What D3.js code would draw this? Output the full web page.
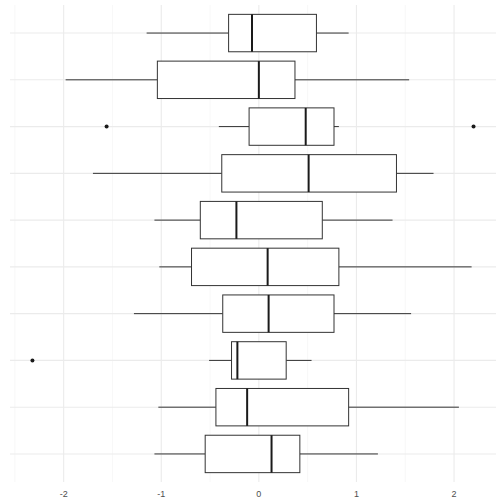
<!DOCTYPE html>
<html><head><meta charset="utf-8">
<script src="https://cdn.jsdelivr.net/npm/d3@7"></script>
<style>body{margin:0;background:#fff}</style>
</head><body>
<svg width="504" height="504"></svg>
<script>
// rows from top to bottom
const rows = ['r1','r2','r3','r4','r5','r6','r7','r8','r9','r10']
const lower  = [-1.15, -1.98, -0.41, -1.70, -1.07, -1.02, -1.28, -0.51, -1.03, -1.07]
const q1     = [-0.31, -1.04, -0.10, -0.38, -0.60, -0.69, -0.37, -0.28, -0.44, -0.55]
const median = [-0.07,  0.00,  0.48,  0.51, -0.23,  0.09,  0.10, -0.22, -0.12,  0.13]
const q3     = [ 0.59,  0.37,  0.77,  1.41,  0.65,  0.82,  0.77,  0.28,  0.92,  0.42]
const upper  = [ 0.92,  1.54,  0.82,  1.79,  1.37,  2.18,  1.56,  0.54,  2.05,  1.22]
const outliers = [[2, -1.56], [2, 2.20], [7, -2.32]]
const xTicks = [-2, -1, 0, 1, 2]

const svg = d3.select('svg')
const pLeft = 10, pRight = 496, pTop = 5, pBottom = 482

const x = d3.scaleLinear().domain([-2.55, 2.43]).range([pLeft, pRight])
const y = d3.scalePoint().domain(rows).range([pTop, pBottom]).padding(0.6)
const step = y.step()
const bw = step * 0.8

const g = svg.append('g')
// minor grid
d3.range(-2.5, 2.5, 1).forEach(v => {
    g.append('line').attr('x1', x(v)).attr('x2', x(v)).attr('y1', pTop).attr('y2', pBottom)
        .style('stroke', '#f2f2f2').style('stroke-width', 0.6)
})
xTicks.forEach(v => {
    g.append('line').attr('x1', x(v)).attr('x2', x(v)).attr('y1', pTop).attr('y2', pBottom)
        .style('stroke', '#ebebeb').style('stroke-width', 1.1)
})
rows.forEach(r => {
    g.append('line').attr('x1', pLeft).attr('x2', pRight).attr('y1', y(r)).attr('y2', y(r))
        .style('stroke', '#ebebeb').style('stroke-width', 1.1)
})

rows.forEach((r, i) => {
    const cy = y(r)
    g.append('line').attr('x1', x(lower[i])).attr('x2', x(q1[i])).attr('y1', cy).attr('y2', cy).style('stroke', '#333')
    g.append('line').attr('x1', x(q3[i])).attr('x2', x(upper[i])).attr('y1', cy).attr('y2', cy).style('stroke', '#333')
    g.append('rect').attr('x', x(q1[i])).attr('width', x(q3[i]) - x(q1[i]))
        .attr('y', cy - bw / 2).attr('height', bw)
        .style('fill', '#fff').style('stroke', '#333')
    g.append('line').attr('x1', x(median[i])).attr('x2', x(median[i]))
        .attr('y1', cy - bw / 2).attr('y2', cy + bw / 2)
        .style('stroke', '#1a1a1a').style('stroke-width', 2)
})

outliers.forEach(o => {
    g.append('circle').attr('cx', x(o[1])).attr('cy', y(rows[o[0]])).attr('r', 2).style('fill', '#1a1a1a')
})

xTicks.forEach(v => {
    svg.append('text').attr('x', x(v)).attr('y', 497).attr('text-anchor', 'middle')
        .style('font-family', 'Liberation Sans, Arial, sans-serif').style('font-size', '9px')
        .style('fill', '#4d4d4d').text(v)
})
</script>
</body></html>
